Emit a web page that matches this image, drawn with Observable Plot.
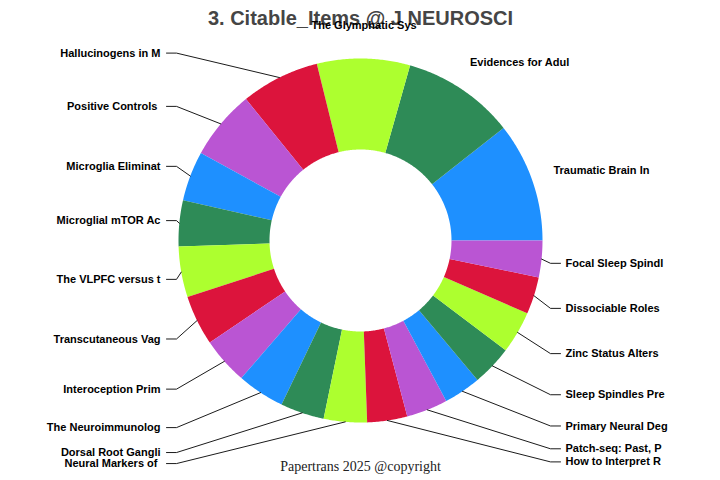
<!DOCTYPE html>
<html>
<head>
<meta charset="utf-8">
<script src="https://cdn.jsdelivr.net/npm/d3@7"></script>
<script src="https://cdn.jsdelivr.net/npm/@observablehq/plot@0.6"></script>
<style>
  body { margin: 0; background: #fff; }
  #chart svg { display: block; background: #fff; }
</style>
</head>
<body>
<div id="chart"></div>
<script>
// ---- data ----
const titles = [
  "Traumatic Brain In", "Evidences for Adul", "The Glymphatic Sys", "Hallucinogens in M",
  "Positive Controls ", "Microglia Eliminat", "Microglial mTOR Ac", "The VLPFC versus t",
  "Transcutaneous Vag", "Interoception Prim", "The Neuroimmunolog", "Dorsal Root Gangli",
  "Neural Markers of ", "How to Interpret R", "Patch-seq: Past, P", "Primary Neural Deg",
  "Sleep Spindles Pre", "Zinc Status Alters", "Dissociable Roles ", "Focal Sleep Spindl"
];
const values = [
  38.2, 36.0, 29.7, 25.1, 22.3, 15.9, 14.7, 16.2, 16.0, 15.0,
  15.2, 14.0, 13.8, 12.8, 13.2, 11.9, 12.9, 13.5, 11.9, 11.7
];
const palette = ["#1E90FF", "#2E8B57", "#ADFF2F", "#DC143C", "#BA55D3"];
const chartTitle = "3. Citable_Items @ J NEUROSCI";
const captionText = "Papertrans 2025 @copyright";

// ---- layout constants ----
const W = 720, H = 480;
const R = 182, R0 = 91;          // outer / inner radius (data units = px)
const rad = Math.PI / 180;

const total = d3.sum(values);
let acc = 0;
const slices = values.map((v, i) => {
  const a0 = acc / total * 360;
  acc += v;
  const a1 = acc / total * 360;
  return {i, name: titles[i], value: v, a0, a1, mid: (a0 + a1) / 2, span: a1 - a0};
});

function arcRing(s) {
  const pts = [];
  const n = Math.max(2, Math.ceil(s.span / 0.5));
  for (let k = 0; k <= n; k++) {
    const a = (s.a0 + (s.a1 - s.a0) * k / n) * rad;
    pts.push([R * Math.cos(a), R * Math.sin(a)]);
  }
  for (let k = n; k >= 0; k--) {
    const a = (s.a0 + (s.a1 - s.a0) * k / n) * rad;
    pts.push([R0 * Math.cos(a), R0 * Math.sin(a)]);
  }
  pts.push(pts[0]);
  return pts;
}

const sliceFeatures = slices.map(s => ({
  type: "Feature",
  properties: {name: s.name},
  geometry: {type: "Polygon", coordinates: [arcRing(s)]}
}));

// ---- labels ----
const freeLabels = [], ledLabels = [];
for (const s of slices) {
  const c = Math.cos(s.mid * rad), sn = Math.sin(s.mid * rad);
  if (s.span >= 28) {
    const px = 1.18 * R * c, py = 1.18 * R * sn;
    let anchor = "middle", x = px;
    if (c > 0.25) { anchor = "start"; x = px - 10; }
    else if (c < -0.25) { anchor = "end"; x = px + 10; }
    freeLabels.push({name: s.name, x, y: py, anchor});
  } else {
    const k = sn > 0 ? 1.15 : 1.23;
    ledLabels.push({name: s.name, side: c >= 0 ? "right" : "left",
      ex: R * c, ey: R * sn, y: k * R * sn});
  }
}
const gap = 11;
for (const side of ["left", "right"]) {
  const up = ledLabels.filter(d => d.side === side && d.y > 0).sort((a, b) => a.y - b.y);
  for (let i = 1; i < up.length; i++) up[i].y = Math.max(up[i].y, up[i - 1].y + gap);
  const dn = ledLabels.filter(d => d.side === side && d.y <= 0).sort((a, b) => b.y - a.y);
  for (let i = 1; i < dn.length; i++) dn[i].y = Math.min(dn[i].y, dn[i - 1].y - gap);
}
for (const d of ledLabels) {
  if (d.side === "right") { d.tx = 205; d.elbow = 190; d.lineEnd = 200; d.anchor = "start"; }
  else { d.tx = -200; d.elbow = -184; d.lineEnd = -194; d.anchor = "end"; }
}
const leaderFeatures = ledLabels.map(d => ({
  type: "Feature", properties: {},
  geometry: {type: "LineString", coordinates: [[d.ex, d.ey], [d.elbow, d.y], [d.lineEnd, d.y]]}
}));

const labelStyle = {fontSize: 11, fontWeight: "bold", fill: "#000"};
const labelMarks = ["start", "middle", "end"].map(a =>
  Plot.text([...ledLabels.map(d => ({name: d.name, x: d.tx, y: d.y, anchor: d.anchor})), ...freeLabels]
    .filter(d => d.anchor === a),
    {x: "x", y: "y", text: "name", textAnchor: a, ...labelStyle})
);

const chart = Plot.plot({
  width: W, height: H, margin: 0,
  projection: {
    type: "reflect-y",
    domain: {type: "MultiPoint", coordinates: [[-W / 2, -H / 2], [W / 2, H / 2]]}
  },
  color: {domain: titles, range: titles.map((_, i) => palette[i % palette.length])},
  style: {fontFamily: "'Liberation Sans', Arial, sans-serif", background: "#fff"},
  marks: [
    Plot.geo(sliceFeatures, {fill: d => d.properties.name, stroke: null}),
    Plot.geo(leaderFeatures, {stroke: "#000", strokeWidth: 0.9, fill: "none"}),
    Plot.text([chartTitle], {
      text: d => d, frameAnchor: "top", lineAnchor: "top", dy: 10,
      fontSize: 20, fontWeight: "bold", fill: "#454545"
    }),
    ...labelMarks,
    Plot.text([captionText], {
      text: d => d, frameAnchor: "bottom", lineAnchor: "middle", dy: -14,
      fontSize: 14, fill: "#222", fontFamily: "'Liberation Serif', 'Times New Roman', serif"
    })
  ]
});
document.getElementById("chart").appendChild(chart);
</script>
</body>
</html>
